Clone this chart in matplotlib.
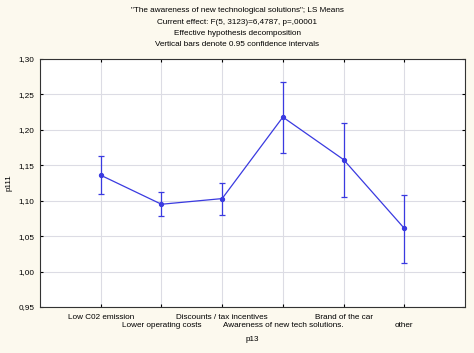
import matplotlib
matplotlib.use("Agg")
import matplotlib.pyplot as plt
import numpy as np

categories = ["Low C02 emission", "Lower operating costs", "Discounts / tax incentives",
              "Awareness of new tech solutions.", "Brand of the car", "other"]
means = [1.136, 1.095, 1.103, 1.218, 1.158, 1.061]
ci_upper = [1.163, 1.112, 1.125, 1.268, 1.210, 1.108]
ci_lower = [1.109, 1.079, 1.080, 1.168, 1.105, 1.012]
yticks = [0.95, 1.00, 1.05, 1.10, 1.15, 1.20, 1.25, 1.30]
title_lines = ['"The awareness of new technological solutions"; LS Means',
               'Current effect: F(5, 3123)=6,4787, p=,00001',
               'Effective hypothesis decomposition',
               'Vertical bars denote 0.95 confidence intervals']

plt.rcParams['font.family'] = ['Liberation Sans', 'DejaVu Sans']
fs = 5.9

fig = plt.figure(figsize=(4.74, 3.53), dpi=100, facecolor='#fcf9ee')
ax = fig.add_axes([40/474, 1 - 307/353, 425/474, 248/353])
ax.set_facecolor('white')

x = np.arange(1, len(categories) + 1)
m = np.array(means)
yerr = [m - np.array(ci_lower), np.array(ci_upper) - m]
color = '#3a3ae0'
ax.errorbar(x, m, yerr=yerr, color=color, lw=0.9, marker='o', ms=2.8,
            mfc=color, mec=color, capsize=2.3, capthick=0.9, elinewidth=0.9, zorder=3)

ax.set_xlim(0, len(categories) + 1)
ax.set_ylim(0.95, 1.30)
ax.set_yticks(yticks)
ax.set_yticklabels([f"{v:.2f}".replace('.', ',') for v in yticks], fontsize=fs)

major_x = x[0::2]
minor_x = x[1::2]
ax.set_xticks(major_x)
ax.set_xticklabels(categories[0::2], fontsize=fs)
ax.set_xticks(minor_x, minor=True)
ax.set_xticklabels(categories[1::2], minor=True, fontsize=fs)

ax.grid(True, which='both', axis='x', color='#dcdce4', lw=0.8)
ax.grid(True, axis='y', color='#dcdce4', lw=0.8)
ax.set_axisbelow(True)
ax.tick_params(which='both', direction='in', length=2.5, width=0.8, top=True, right=True)
ax.tick_params(axis='x', which='major', pad=5)
ax.tick_params(axis='x', which='minor', pad=11)
ax.tick_params(axis='y', pad=4)
for s in ax.spines.values():
    s.set_color('#333333')
    s.set_linewidth(0.8)

ax.set_ylabel('p111', fontsize=fs)
ax.yaxis.set_label_coords(-27/425, 0.5)
ax.set_xlabel('p13', fontsize=fs)
ax.xaxis.set_label_coords(0.5, -29/248)

for i, t in enumerate(title_lines):
    fig.text(0.5, 1 - (11 + i * 11.3) / 353, t, ha='center', va='center', fontsize=fs)

fig.savefig('out.png', dpi=100, facecolor=fig.get_facecolor())
